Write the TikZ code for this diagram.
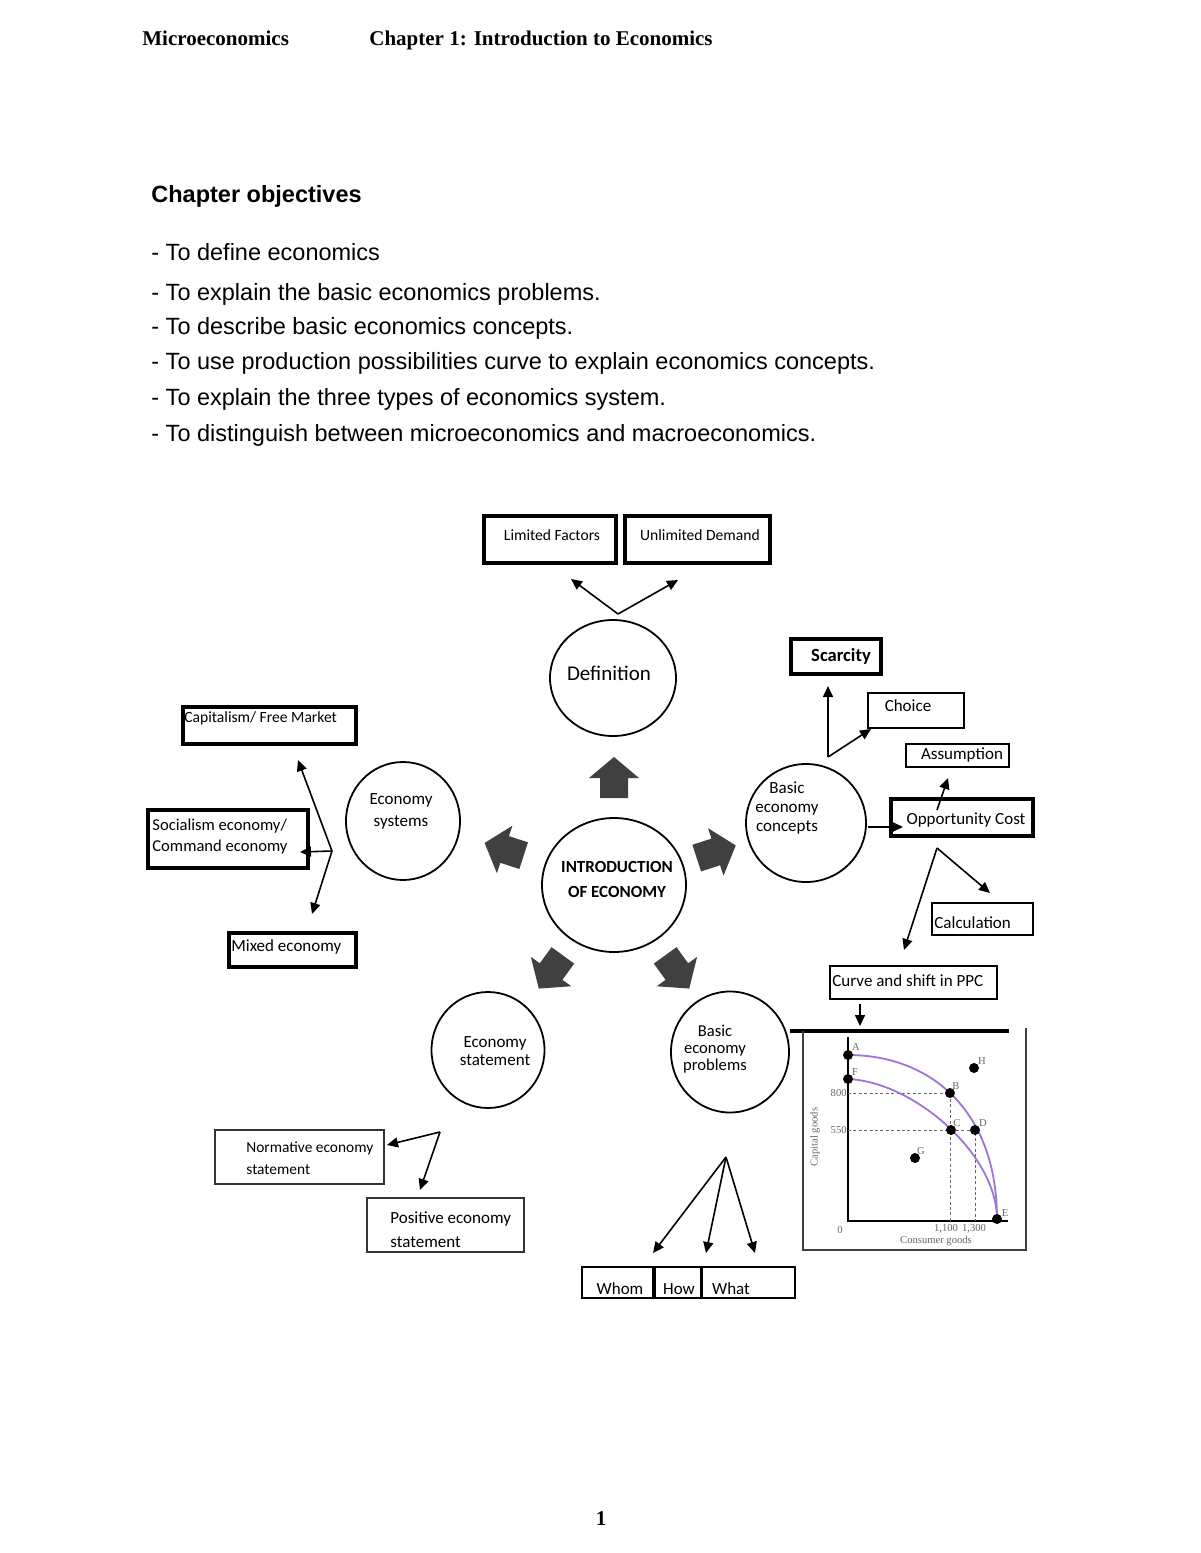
\documentclass[tikz,border=0pt]{standalone}
\usepackage{fontspec}
\setmainfont{Liberation Serif}
\newfontfamily\lblfont{Carlito}
\newfontfamily\arialf{Liberation Sans}
\usetikzlibrary{arrows.meta,fit,shapes.geometric}
\definecolor{ppcpurple}{RGB}{160,115,215}
\definecolor{blockgray}{RGB}{64,64,64}
\tikzset{
  hdr/.style={font=\bfseries\fontsize{10.5}{12}\selectfont, inner sep=0pt},
  objh/.style={font=\arialf\bfseries\fontsize{11.75}{14}\selectfont, inner sep=0pt},
  obj/.style={font=\arialf\fontsize{11.75}{14}\selectfont, inner sep=0pt},
  lbl/.style={font=\lblfont\fontsize{8.5}{10}\selectfont, inner sep=0pt},
  tbox/.style={draw, line width=1.6pt, inner sep=0pt},
  mbox/.style={draw, line width=1.1pt, inner sep=0pt},
  sbox/.style={draw=black!80, line width=0.6pt, inner sep=0pt},
  circ/.style={draw, ellipse, line width=0.9pt, inner sep=0pt},
  arr/.style={line width=0.8pt, -{Triangle[length=5.5pt,width=5pt]}},
  blk/.style={fill=blockgray},
  ppc/.style={draw=ppcpurple, line width=0.9pt},
  dsh/.style={draw=black!60, line width=0.45pt, dash pattern=on 1.5pt off 1.2pt},
  glbl/.style={font=\fontsize{5.3}{6}\selectfont, text=black!60, inner sep=0pt},
  dot/.style={fill=black}
}
\begin{document}
\begin{tikzpicture}[x=0.5pt,y=-0.5pt]
\fill[white] (0,0) rectangle (1200,1553);
\useasboundingbox (0,0) rectangle (1200,1553);

% header
\node[hdr, anchor=base west] (hm) at (142,45) {Microeconomics};
\node[hdr, anchor=base west] (hc) at (369,45) {Chapter 1: Introduction to Economics};

% objectives
\node[objh, anchor=base west] (oh) at (151,202) {Chapter objectives};
\node[obj, anchor=base west] (o1) at (151,260) {- To define economics};
\node[obj, anchor=base west] (o2) at (151,300) {- To explain the basic economics problems.};
\node[obj, anchor=base west] (o3) at (151,334) {- To describe basic economics concepts.};
\node[obj, anchor=base west] (o4) at (151,369) {- To use production possibilities curve to explain economics concepts.};
\node[obj, anchor=base west] (o5) at (151,405) {- To explain the three types of economics system.};
\node[obj, anchor=base west] (o6) at (151,441) {- To distinguish between microeconomics and macroeconomics.};

% ---------- Definition branch
\node[tbox, fit={(484,516) (616,563)}] (lim) {};
\node[lbl, font=\lblfont\fontsize{7.8}{9}\selectfont] (limt) at (552,535) {Limited Factors};
\node[tbox, fit={(625,516) (770,563)}] (unl) {};
\node[lbl, font=\lblfont\fontsize{7.8}{9}\selectfont] (unlt) at (700,535) {Unlimited Demand};
\coordinate (defapex) at (618,614);
\coordinate (limtip) at (571,579);
\coordinate (unltip) at (678,580);
\draw[arr] (defapex) -- (limtip);
\draw[arr] (defapex) -- (unltip);

\node[circ, minimum width=63pt, minimum height=58pt] (def) at (613,678) {};
\node[lbl, font=\lblfont\fontsize{10.5}{12}\selectfont] (deft) at (609,673) {Definition};

% ---------- centre
\node[circ, minimum width=72pt, minimum height=67pt] (intro) at (614,885) {};
\node[lbl, font=\lblfont\bfseries\fontsize{8.5}{12.5}\selectfont, align=center] (introt) at (617,879.5) {INTRODUCTION\\OF ECONOMY};

% block arrows
\foreach \ang/\d in {90/0,162/8,18/0,234/0,306/0}{
  \fill[blk, shift={(614,885)}, rotate=\ang]
    (87+\d,-14) -- (107+\d,-14) -- (107+\d,-25) -- (128+\d,0) -- (107+\d,25) -- (107+\d,14) -- (87+\d,14) -- cycle;
}

% ---------- Economy systems
\node[circ, minimum width=57pt, minimum height=59pt] (esys) at (403,821) {};
\node[lbl, align=center, font=\lblfont\fontsize{8.5}{11}\selectfont] (esyst) at (401,811) {Economy\\systems};
\node[tbox, fit={(183,707) (356,744)}] (cap) {};
\node[lbl, anchor=west, font=\lblfont\fontsize{7.8}{9}\selectfont] (capt) at (184,718) {Capitalism/ Free Market};
\node[tbox, fit={(148,810) (308,868)}] (soc) {};
\node[lbl, anchor=west, align=left, font=\lblfont\fontsize{8.3}{10.5}\selectfont] (soct) at (152,837) {Socialism economy/\\Command economy};
\node[tbox, fit={(229,933) (356,967)}] (mix) {};
\node[lbl, anchor=west] (mixt) at (231,947) {Mixed economy};
\coordinate (esapex) at (332,851);
\coordinate (captip) at (298,760);
\coordinate (soctip) at (300,852);
\coordinate (mixtip) at (312,914);
\draw[arr] (esapex) -- (captip);
\draw[arr] (esapex) -- (soctip);
\draw[arr] (esapex) -- (mixtip);

% ---------- Basic economy concepts
\node[circ, minimum width=60pt, minimum height=59pt] (bec) at (806,823) {};
\node[lbl, align=center, font=\lblfont\fontsize{8.5}{9.5}\selectfont] (bect) at (787,808) {Basic\\economy\\concepts};
\node[tbox, fit={(791,639) (881,674)}] (scar) {};
\node[lbl, font=\lblfont\bfseries\fontsize{9.3}{10}\selectfont] (scart) at (841,656) {Scarcity};
\node[mbox, fit={(868,693) (964,728)}] (cho) {};
\node[lbl] (chot) at (908,706) {Choice};
\coordinate (scapex) at (828,757);
\coordinate (scartip) at (828,686);
\coordinate (chotip) at (871,729);
\draw[arr] (scapex) -- (scartip);
\draw[arr] (scapex) -- (chotip);
\node[mbox, fit={(906,744) (1009,767)}] (ass) {};
\node[lbl] (asst) at (962,755) {Assumption};
\node[tbox, fit={(891,799) (1033,836)}] (opp) {};
\node[lbl] (oppt) at (966,820) {Opportunity Cost};
\coordinate (becout) at (868,827);
\coordinate (opptip) at (903,827);
\draw[arr] (becout) -- (opptip);
\coordinate (oppup) at (937,810);
\coordinate (asstip) at (948,778);
\draw[arr] (oppup) -- (asstip);
\node[tbox, line width=1.3pt, fit={(932,903) (1033,935)}] (calc) {};
\node[lbl, anchor=west] (calct) at (934,923) {Calculation};
\coordinate (oppapex) at (937,848);
\coordinate (calctip) at (990,893);
\coordinate (ppctip) at (904,950);
\draw[arr] (oppapex) -- (calctip);
\draw[arr] (oppapex) -- (ppctip);
\node[mbox, fit={(830,966) (997,999)}] (curv) {};
\node[lbl, anchor=west] (curvt) at (832,981) {Curve and shift in PPC};
\coordinate (curvout) at (860,1004);
\coordinate (graphtip) at (860,1026);
\draw[arr] (curvout) -- (graphtip);

% ---------- Basic economy problems
\node[circ, minimum width=59pt, minimum height=60.5pt] (bep) at (730,1052) {};
\node[lbl, align=center, font=\lblfont\fontsize{8.3}{8.5}\selectfont] (bept) at (715,1049) {Basic\\economy\\problems};
\coordinate (bepout) at (790,1031);
\coordinate (frameR) at (1009,1031);
\draw[line width=2pt] (bepout) -- (frameR);

% PPC frame and graph
\draw[draw=black!75, line width=0.8pt] (803,1031) -- (803,1250) -- (1026,1250) -- (1026,1028);
\draw[line width=0.6pt] (848,1037) -- (848,1221) -- (1008,1221);
\coordinate (pA) at (848,1055);
\coordinate (pF) at (848,1079);
\coordinate (pB) at (950,1093);
\coordinate (pC) at (951,1130);
\coordinate (pD) at (975,1130);
\coordinate (pH) at (974,1068);
\coordinate (pG) at (915,1158);
\coordinate (pE) at (997,1219);
\draw[dsh] (848,1093) -- (pB) -- (950,1221);
\draw[dsh] (848,1130) -- (pD) -- (975,1221);
\draw[ppc] (pA) .. controls (930,1055) and (997,1110) .. (pE);
\draw[ppc] (pF) .. controls (915,1082) and (997,1155) .. (pE);
\foreach \p in {pA,pF,pB,pC,pD,pH,pG,pE} \fill[dot] (\p) circle[radius=2.5pt];
\node[glbl] at (856,1047) {A};
\node[glbl] at (855,1072) {F};
\node[glbl] at (956,1086) {B};
\node[glbl] at (982,1061) {H};
\node[glbl] at (957,1123) {C};
\node[glbl] at (983,1123) {D};
\node[glbl] at (921,1151) {G};
\node[glbl] at (1005,1213) {E};
\node[glbl, anchor=east] at (847,1093) {800};
\node[glbl, anchor=east] at (847,1130) {550};
\node[glbl] at (840,1230) {0};
\node[glbl] at (946,1229) {1,100};
\node[glbl] at (974,1229) {1,300};
\node[glbl] at (936,1241) {Consumer goods};
\node[glbl, rotate=90] at (815,1137) {Capital goods};

% Whom / How / What
\coordinate (probapex) at (726,1157);
\coordinate (whomtip) at (653,1253);
\coordinate (howtip) at (706,1253);
\coordinate (whattip) at (755,1253);
\draw[arr] (probapex) -- (whomtip);
\draw[arr] (probapex) -- (howtip);
\draw[arr] (probapex) -- (whattip);
\node[mbox, fit={(582,1267) (653,1298)}] (whom) {};
\node[mbox, fit={(655,1267) (701,1298)}] (how) {};
\node[mbox, fit={(702,1267) (795,1298)}] (what) {};
\node[lbl] (whomt) at (620,1289) {Whom};
\node[lbl] (howt) at (679,1289) {How};
\node[lbl] (whatt) at (731,1289) {What};

% ---------- Economy statement
\node[circ, minimum width=56.5pt, minimum height=58pt] (est) at (488,1050) {};
\node[lbl, align=center, font=\lblfont\fontsize{8.5}{9}\selectfont] (estt) at (495,1051) {Economy\\statement};
\node[sbox, fit={(215,1130) (384,1184)}] (norm) {};
\node[lbl, anchor=west, align=left, font=\lblfont\fontsize{7.7}{11}\selectfont] (normt) at (246,1158) {Normative economy\\statement};
\node[sbox, fit={(367,1198) (524,1252)}] (pos) {};
\node[lbl, anchor=west, align=left, font=\lblfont\fontsize{8.5}{12}\selectfont] (post) at (390,1230) {Positive economy\\statement};
\coordinate (stapex) at (440,1132);
\coordinate (normtip) at (387,1145);
\coordinate (postip) at (420,1190);
\draw[arr] (stapex) -- (normtip);
\draw[arr] (stapex) -- (postip);

% page number
\node[hdr, anchor=base] (pg) at (601,1525) {1};
\end{tikzpicture}
\end{document}
